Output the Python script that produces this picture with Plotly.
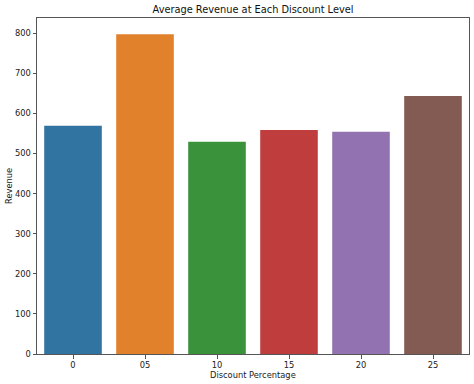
import plotly.graph_objects as go

categories = ["0", "05", "10", "15", "20", "25"]
revenue = [569.5, 797.5, 529.5, 558.5, 554.5, 643.5]
colors = ["#3274a1", "#e1812c", "#3a923a", "#c03d3e", "#9372b2", "#845b53"]
y_ticks = [0, 100, 200, 300, 400, 500, 600, 700, 800]

fig = go.Figure(
    go.Bar(
        x=categories,
        y=revenue,
        marker=dict(color=colors, line=dict(width=0)),
        width=0.8,
    )
)

W, H = 474, 384
L, R, T, B = 37, 5, 18, 30
pw, ph = W - L - R, H - T - B

font_family = "DejaVu Sans"
fig.update_layout(
    width=W,
    height=H,
    margin=dict(l=L, r=R, t=T, b=B, autoexpand=False),
    paper_bgcolor="white",
    plot_bgcolor="white",
    font=dict(family=font_family, size=8.3, color="#222"),
    showlegend=False,
    title=dict(
        text="Average Revenue at Each Discount Level",
        x=0.5 * (L + W - R) / W,
        xanchor="center",
        y=1 - 10 / H,
        yanchor="middle",
        font=dict(size=9.8, family=font_family, color="#111"),
        automargin=False,
    ),
    bargap=0.2,
    annotations=[
        dict(
            text="Discount Percentage",
            xref="paper", yref="paper",
            x=0.5, y=-(375 - (H - B)) / ph,
            xanchor="center", yanchor="middle",
            showarrow=False,
            font=dict(size=8.3, family=font_family, color="#222"),
        ),
        dict(
            text="Revenue",
            xref="paper", yref="paper",
            x=(9 - L) / pw, y=0.5,
            xanchor="center", yanchor="middle",
            textangle=-90,
            showarrow=False,
            font=dict(size=8.3, family=font_family, color="#222"),
        ),
    ],
)

fig.update_xaxes(
    type="category",
    range=[-0.5, 5.5],
    showline=True,
    linecolor="#555",
    linewidth=1,
    mirror=True,
    ticks="outside",
    ticklen=3.5,
    tickcolor="#555",
    showgrid=False,
    automargin=False,
)
fig.update_yaxes(
    range=[0, 838],
    tickvals=y_ticks,
    showline=True,
    linecolor="#555",
    linewidth=1,
    mirror=True,
    ticks="outside",
    ticklen=3.5,
    tickcolor="#555",
    showgrid=False,
    zeroline=False,
    automargin=False,
)

fig.write_html(
    "out.html",
    config={"displayModeBar": False},
    post_script="document.body.style.margin='0';document.body.style.padding='0';",
)
